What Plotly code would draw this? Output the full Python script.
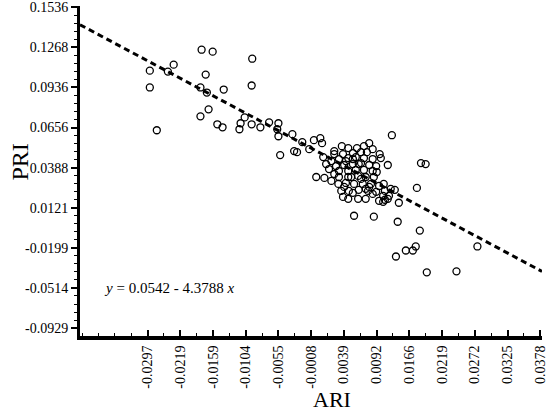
import numpy as np
import plotly.graph_objects as go

# ARI / PRI samples
ari = [-0.0293, -0.0293, -0.0281, -0.0262, -0.0252, -0.0204, -0.0185, -0.0197, -0.0206, -0.0195,
       -0.0166, -0.0117, -0.0118, -0.0192, -0.0206, -0.0177, -0.0168, -0.0137, -0.0139, -0.0130,
       -0.0118, -0.0103, -0.0088, -0.0072, -0.0074, -0.0072, -0.0048, -0.0069, -0.0045, -0.0040,
       -0.0031, -0.0019, -0.0011, 0.0000, 0.0003, 0.0123, 0.0173, 0.0181, 0.0166, 0.0121,
       0.0128, 0.0058, 0.0092, 0.0133, 0.0101, 0.0111, 0.0118, 0.0135, 0.0171, 0.0270,
       0.0164, 0.0159, 0.0147, 0.0130, 0.0183, 0.0234, -0.0007, 0.0007, 0.0019, 0.0084,
       0.0075, 0.0063, 0.0048, 0.0024, 0.0024, 0.0039, 0.0056, 0.0070, 0.0090, 0.0102,
       0.0104, 0.0116, 0.0005, 0.0010, 0.0019, 0.0032, 0.0048, 0.0061, 0.0075, 0.0090,
       0.0027, 0.0041, 0.0056, 0.0070, 0.0084, 0.0096, 0.0032, 0.0048, 0.0061, 0.0075,
       0.0090, 0.0032, 0.0048, 0.0065, 0.0078, 0.0092, 0.0031, 0.0044, 0.0058, 0.0073,
       0.0087, 0.0101, 0.0036, 0.0049, 0.0066, 0.0082, 0.0096, 0.0039, 0.0056, 0.0065,
       0.0078, 0.0108, 0.0116, 0.0108, 0.0015, 0.0024, 0.0041, 0.0053, 0.0070, 0.0084,
       0.0056, 0.0080, 0.0097, 0.0037, 0.0066, 0.0044, 0.0078, 0.0090, 0.0109, 0.0048,
       0.0111]
pri = [0.1049, 0.0920, 0.0591, 0.1042, 0.1095, 0.1210, 0.1195, 0.1019, 0.0920, 0.0881,
       0.0904, 0.1141, 0.0935, 0.0752, 0.0698, 0.0637, 0.0614, 0.0645, 0.0599, 0.0690,
       0.0637, 0.0614, 0.0652, 0.0645, 0.0599, 0.0545, 0.0561, 0.0400, 0.0431, 0.0423,
       0.0500, 0.0446, 0.0515, 0.0530, 0.0492, 0.0553, 0.0339, 0.0331, 0.0148, 0.0141,
       0.0133, -0.0066, -0.0073, -0.0112, 0.0049, 0.0057, 0.0087, 0.0034, -0.0180, -0.0302,
       -0.0302, -0.0333, -0.0333, -0.0379, -0.0501, -0.0493, 0.0232, 0.0225, 0.0202, 0.0492,
       0.0469, 0.0454, 0.0454, 0.0431, 0.0408, 0.0408, 0.0416, 0.0423, 0.0446, 0.0408,
       0.0377, 0.0324, 0.0385, 0.0331, 0.0354, 0.0370, 0.0377, 0.0385, 0.0377, 0.0370,
       0.0316, 0.0324, 0.0331, 0.0339, 0.0324, 0.0316, 0.0278, 0.0278, 0.0286, 0.0286,
       0.0278, 0.0232, 0.0232, 0.0240, 0.0232, 0.0232, 0.0179, 0.0186, 0.0179, 0.0179,
       0.0179, 0.0163, 0.0125, 0.0125, 0.0133, 0.0125, 0.0118, 0.0079, 0.0110, 0.0064,
       0.0064, 0.0087, 0.0064, 0.0041, 0.0293, 0.0255, 0.0156, 0.0232, 0.0217, 0.0156,
       0.0370, 0.0423, 0.0270, 0.0469, 0.0331, 0.0354, 0.0141, 0.0102, 0.0179, 0.0064,
       0.0125]

# fitted line as drawn on the chart
fit_intercept = 0.0416
fit_slope = -2.388
fit_label = "<i>y</i> = 0.0542 - 4.3788 <i>x</i>"

# tick labels as printed (evenly spaced along each axis)
x_ticks = ["-0.0297", "-0.0219", "-0.0159", "-0.0104", "-0.0055", "-0.0008", "0.0039",
           "0.0092", "0.0166", "0.0219", "0.0272", "0.0325", "0.0378"]
y_ticks = ["-0.0929", "-0.0514", "-0.0199", "0.0121", "0.0388", "0.0656", "0.0936",
           "0.1268", "0.1536"]

x_pos = np.linspace(float(x_ticks[0]), float(x_ticks[-1]), len(x_ticks))
y_pos = np.linspace(float(y_ticks[0]), float(y_ticks[-1]), len(y_ticks))
x_step = x_pos[1] - x_pos[0]
y_step = y_pos[1] - y_pos[0]

x_range = [-0.0413, 0.0381]
y_range = [-0.0990, 0.1546]

fig = go.Figure()

line_x = np.array(x_range)
fig.add_trace(go.Scatter(
    x=line_x, y=fit_intercept + fit_slope * line_x,
    mode='lines',
    line=dict(color='black', width=3, dash='6px,4px'),
    showlegend=False, hoverinfo='skip',
))

fig.add_trace(go.Scatter(
    x=ari, y=pri,
    mode='markers',
    marker=dict(symbol='circle-open', size=7, color='black', line=dict(width=1.3)),
    showlegend=False,
))

serif = "Liberation Serif"

fig.update_layout(
    width=548, height=412,
    margin=dict(l=80, r=6, t=6, b=76),
    paper_bgcolor='white', plot_bgcolor='white',
    font=dict(family=serif, size=14, color='black'),
    xaxis=dict(
        range=x_range, showgrid=False, zeroline=False, automargin=False,
        showline=True, linecolor='black', linewidth=4,
        tickmode='array', tickvals=x_pos, ticktext=x_ticks, tickangle=-90,
        ticks='inside', ticklen=6, tickwidth=1.5, tickcolor='black',
        minor=dict(ticks='inside', ticklen=3, tickwidth=1, tickcolor='black',
                   tick0=x_pos[0], dtick=x_step / 2),
        tickfont=dict(family=serif, size=14),
    ),
    yaxis=dict(
        range=y_range, showgrid=False, zeroline=False, automargin=False,
        showline=True, linecolor='black', linewidth=3,
        tickmode='array', tickvals=y_pos, ticktext=y_ticks,
        ticks='outside', ticklen=6, tickwidth=1.5, tickcolor='black',
        minor=dict(ticks='outside', ticklen=3, tickwidth=1, tickcolor='black',
                   tick0=y_pos[0], dtick=y_step / 5),
        tickfont=dict(family=serif, size=14),
    ),
    annotations=[
        dict(text=fit_label, xref='paper', yref='paper', x=0.047, y=0.145,
             xanchor='left', yanchor='middle', showarrow=False,
             font=dict(family=serif, size=15)),
        dict(text="ARI", xref='paper', yref='paper', x=0.545, y=-0.193,
             xanchor='center', yanchor='middle', showarrow=False,
             font=dict(family=serif, size=22)),
        dict(text="PRI", xref='paper', yref='paper', x=-0.129, y=0.527,
             xanchor='center', yanchor='middle', showarrow=False, textangle=-90,
             font=dict(family=serif, size=24)),
    ],
)

fig.write_html("out.html", config={'displayModeBar': False},
               post_script="document.body.style.margin='0';")
